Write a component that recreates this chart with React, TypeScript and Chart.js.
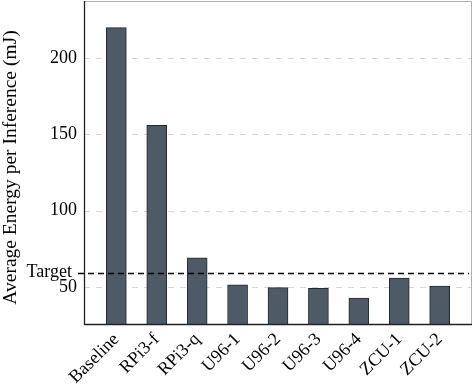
import React, { useEffect, useRef } from "react";
import { Chart, registerables } from "chart.js";

Chart.register(...registerables);

const categories = ["Baseline", "RPi3-f", "RPi3-q", "U96-1", "U96-2", "U96-3", "U96-4", "ZCU-1", "ZCU-2"];
const energy = [220, 156, 69, 51.3, 49.5, 49, 42.6, 55.7, 50.5];
const yTicks = [50, 100, 150, 200];
const targetValue = 59;
const targetLabel = "Target";
const yTitle = "Average Energy per Inference (mJ)";

const FONT = "'Liberation Serif', 'Times New Roman', serif";

export default function App() {
  const ref = useRef<HTMLCanvasElement | null>(null);

  useEffect(() => {
    document.body.style.margin = "0";
    const canvas = ref.current;
    if (!canvas) return;

    const framePlugin = {
      id: "frame",
      beforeDatasetsDraw(chart: any) {
        const { ctx, chartArea } = chart;
        const y = chart.scales.y;
        ctx.save();
        ctx.strokeStyle = "#d6d6d6";
        ctx.lineWidth = 1;
        ctx.setLineDash([6, 6]);
        for (const v of yTicks) {
          const py = Math.round(y.getPixelForValue(v)) + 0.5;
          ctx.beginPath();
          ctx.moveTo(chartArea.left, py);
          ctx.lineTo(chartArea.right, py);
          ctx.stroke();
        }
        ctx.restore();
      },
      afterDatasetsDraw(chart: any) {
        const { ctx, chartArea } = chart;
        const y = chart.scales.y;
        ctx.save();
        const ty = Math.round(y.getPixelForValue(targetValue)) + 0.5;
        ctx.strokeStyle = "#000";
        ctx.lineWidth = 1.6;
        ctx.setLineDash([6, 4]);
        ctx.beginPath();
        ctx.moveTo(chartArea.left - 6, ty);
        ctx.lineTo(chartArea.right - 3, ty);
        ctx.stroke();
        ctx.setLineDash([]);
        ctx.fillStyle = "#000";
        ctx.font = `18px ${FONT}`;
        ctx.textAlign = "right";
        ctx.textBaseline = "middle";
        ctx.fillText(targetLabel, chartArea.left - 12, ty - 1);
        // y axis title
        ctx.save();
        ctx.translate(16, (chartArea.top + chartArea.bottom) / 2 + 4.5);
        ctx.rotate(-Math.PI / 2);
        ctx.font = `19.5px ${FONT}`;
        ctx.textAlign = "center";
        ctx.textBaseline = "alphabetic";
        ctx.fillText(yTitle, 0, 0);
        ctx.restore();
        // frame
        ctx.lineWidth = 1;
        ctx.strokeStyle = "#b0b0b0";
        ctx.beginPath();
        ctx.moveTo(chartArea.left, chartArea.top + 0.5);
        ctx.lineTo(chartArea.right - 0.5, chartArea.top + 0.5);
        ctx.lineTo(chartArea.right - 0.5, chartArea.bottom);
        ctx.stroke();
        ctx.strokeStyle = "#222";
        ctx.lineWidth = 1.3;
        ctx.beginPath();
        ctx.moveTo(chartArea.left + 0.5, chartArea.top);
        ctx.lineTo(chartArea.left + 0.5, chartArea.bottom - 0.5);
        ctx.lineTo(chartArea.right, chartArea.bottom - 0.5);
        ctx.stroke();
        ctx.restore();
      },
    };

    const chart = new Chart(canvas, {
      type: "bar",
      data: {
        datasets: [
          {
            data: categories.map((_, i) => ({ x: i, y: energy[i] })),
            backgroundColor: "#4e5b67",
            borderColor: "#22282d",
            borderWidth: 1,
            barThickness: 20,
          },
        ],
      },
      options: {
        animation: false,
        responsive: false,
        maintainAspectRatio: false,
        layout: { padding: { top: 1, right: 2, left: 0, bottom: 0 } },
        plugins: { legend: { display: false }, tooltip: { enabled: false } },
        scales: {
          x: {
            type: "linear",
            offset: false,
            min: -0.8,
            max: 8.8,
            grid: { display: false, drawTicks: false, offset: false },
            border: { display: false },
            afterBuildTicks: (scale: any) => {
              scale.ticks = categories.map((_, i) => ({ value: i }));
            },
            afterFit: (scale: any) => {
              scale.height = 62;
              scale.paddingLeft = 0;
              scale.paddingRight = 0;
            },
            ticks: {
              autoSkip: false,
              minRotation: 45,
              maxRotation: 45,
              padding: 4,
              color: "#000",
              font: { family: FONT, size: 18 },
              callback: (v: any) => categories[Math.round(Number(v))] ?? "",
            },
          },
          y: {
            min: 25,
            max: 237.5,
            grid: { display: false, drawTicks: false },
            border: { display: false },
            afterBuildTicks: (scale: any) => {
              scale.ticks = yTicks.map((v) => ({ value: v }));
            },
            afterFit: (scale: any) => {
              scale.width = 84;
              scale.paddingTop = 0;
              scale.paddingBottom = 0;
            },
            ticks: {
              padding: 7,
              color: "#000",
              font: { family: FONT, size: 18 },
            },
            title: { display: false },
          },
        },
      },
      plugins: [framePlugin],
    });

    return () => chart.destroy();
  }, []);

  return (
    <div style={{ width: 474, height: 387 }}>
      <canvas ref={ref} width={474} height={387} style={{ display: "block" }} />
    </div>
  );
}
